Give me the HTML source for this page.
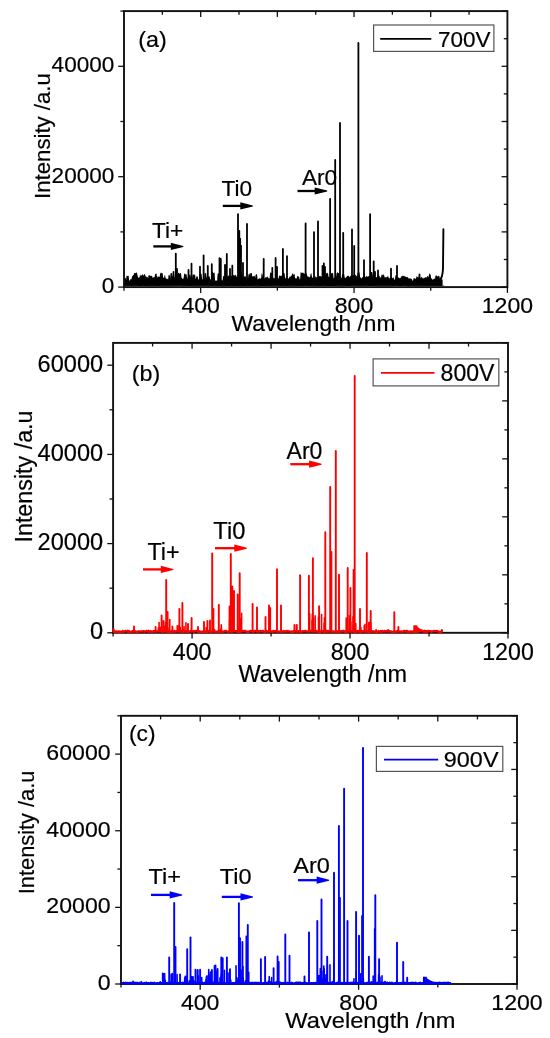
<!DOCTYPE html>
<html><head><meta charset="utf-8"><title>Spectra</title>
<style>html,body{margin:0;padding:0;background:#fff;} svg{display:block;}</style></head>
<body>
<svg width="550" height="1038" viewBox="0 0 550 1038" font-family="'Liberation Sans', Arial, sans-serif">
<rect width="550" height="1038" fill="#fff"/>
<line x1="162.34" y1="11.10" x2="162.34" y2="14.70" stroke="#111" stroke-width="1.3" stroke-linecap="butt"/>
<line x1="200.68" y1="11.10" x2="200.68" y2="16.90" stroke="#111" stroke-width="1.3" stroke-linecap="butt"/>
<line x1="239.02" y1="11.10" x2="239.02" y2="14.70" stroke="#111" stroke-width="1.3" stroke-linecap="butt"/>
<line x1="277.36" y1="11.10" x2="277.36" y2="16.90" stroke="#111" stroke-width="1.3" stroke-linecap="butt"/>
<line x1="315.70" y1="11.10" x2="315.70" y2="14.70" stroke="#111" stroke-width="1.3" stroke-linecap="butt"/>
<line x1="354.04" y1="11.10" x2="354.04" y2="16.90" stroke="#111" stroke-width="1.3" stroke-linecap="butt"/>
<line x1="392.38" y1="11.10" x2="392.38" y2="14.70" stroke="#111" stroke-width="1.3" stroke-linecap="butt"/>
<line x1="430.72" y1="11.10" x2="430.72" y2="16.90" stroke="#111" stroke-width="1.3" stroke-linecap="butt"/>
<line x1="469.06" y1="11.10" x2="469.06" y2="14.70" stroke="#111" stroke-width="1.3" stroke-linecap="butt"/>
<line x1="200.68" y1="287.10" x2="200.68" y2="292.90" stroke="#111" stroke-width="1.3" stroke-linecap="butt"/>
<line x1="354.04" y1="287.10" x2="354.04" y2="292.90" stroke="#111" stroke-width="1.3" stroke-linecap="butt"/>
<line x1="507.40" y1="287.10" x2="507.40" y2="292.90" stroke="#111" stroke-width="1.3" stroke-linecap="butt"/>
<line x1="124.00" y1="287.10" x2="124.00" y2="290.70" stroke="#111" stroke-width="1.3" stroke-linecap="butt"/>
<line x1="277.36" y1="287.10" x2="277.36" y2="290.70" stroke="#111" stroke-width="1.3" stroke-linecap="butt"/>
<line x1="430.72" y1="287.10" x2="430.72" y2="290.70" stroke="#111" stroke-width="1.3" stroke-linecap="butt"/>
<line x1="118.20" y1="287.10" x2="124.00" y2="287.10" stroke="#111" stroke-width="1.3" stroke-linecap="butt"/>
<line x1="120.40" y1="231.90" x2="124.00" y2="231.90" stroke="#111" stroke-width="1.3" stroke-linecap="butt"/>
<line x1="118.20" y1="176.70" x2="124.00" y2="176.70" stroke="#111" stroke-width="1.3" stroke-linecap="butt"/>
<line x1="120.40" y1="121.50" x2="124.00" y2="121.50" stroke="#111" stroke-width="1.3" stroke-linecap="butt"/>
<line x1="118.20" y1="66.30" x2="124.00" y2="66.30" stroke="#111" stroke-width="1.3" stroke-linecap="butt"/>
<line x1="120.40" y1="11.10" x2="124.00" y2="11.10" stroke="#111" stroke-width="1.3" stroke-linecap="butt"/>
<line x1="501.60" y1="287.10" x2="507.40" y2="287.10" stroke="#111" stroke-width="1.3" stroke-linecap="butt"/>
<line x1="503.80" y1="259.50" x2="507.40" y2="259.50" stroke="#111" stroke-width="1.3" stroke-linecap="butt"/>
<line x1="501.60" y1="231.90" x2="507.40" y2="231.90" stroke="#111" stroke-width="1.3" stroke-linecap="butt"/>
<line x1="503.80" y1="204.30" x2="507.40" y2="204.30" stroke="#111" stroke-width="1.3" stroke-linecap="butt"/>
<line x1="501.60" y1="176.70" x2="507.40" y2="176.70" stroke="#111" stroke-width="1.3" stroke-linecap="butt"/>
<line x1="503.80" y1="149.10" x2="507.40" y2="149.10" stroke="#111" stroke-width="1.3" stroke-linecap="butt"/>
<line x1="501.60" y1="121.50" x2="507.40" y2="121.50" stroke="#111" stroke-width="1.3" stroke-linecap="butt"/>
<line x1="503.80" y1="93.90" x2="507.40" y2="93.90" stroke="#111" stroke-width="1.3" stroke-linecap="butt"/>
<line x1="501.60" y1="66.30" x2="507.40" y2="66.30" stroke="#111" stroke-width="1.3" stroke-linecap="butt"/>
<line x1="503.80" y1="38.70" x2="507.40" y2="38.70" stroke="#111" stroke-width="1.3" stroke-linecap="butt"/>
<line x1="501.60" y1="11.10" x2="507.40" y2="11.10" stroke="#111" stroke-width="1.3" stroke-linecap="butt"/>
<rect x="124.00" y="11.10" width="383.40" height="276.00" fill="none" stroke="#111" stroke-width="1.9"/>
<polygon points="124.60,278.40 125.10,277.63 125.60,277.96 126.10,279.82 126.60,275.24 127.10,276.07 127.60,275.98 128.10,276.14 128.60,275.17 129.10,280.59 129.60,280.56 130.10,280.15 130.60,278.67 131.10,279.39 131.60,278.74 132.10,276.27 132.60,276.31 133.10,274.91 133.60,275.28 134.10,272.81 134.60,273.16 135.10,272.83 135.60,273.52 136.10,272.54 136.60,272.62 137.10,273.14 137.60,276.17 138.10,277.28 138.60,277.87 139.10,277.53 139.60,277.00 140.10,274.33 140.60,275.79 141.10,276.03 141.60,275.37 142.10,274.54 142.60,274.32 143.10,275.55 143.60,275.58 144.10,273.95 144.60,274.23 145.10,274.67 145.60,276.14 146.10,277.01 146.60,276.33 147.10,278.11 147.60,276.75 148.10,277.59 148.60,277.80 149.10,277.61 149.60,275.37 150.10,275.40 150.60,276.36 151.10,275.88 151.60,275.87 152.10,276.06 152.60,277.71 153.10,277.86 153.60,277.24 154.10,277.23 154.60,277.07 155.10,274.01 155.60,274.34 156.10,273.27 156.60,273.89 157.10,278.11 157.60,276.24 158.10,277.08 158.60,276.13 159.10,277.00 159.60,276.86 160.10,273.93 160.60,272.60 161.10,273.40 161.60,272.57 162.10,273.19 162.60,273.12 163.10,277.43 163.60,277.40 164.10,278.01 164.60,274.98 165.10,275.46 165.60,278.02 166.10,278.87 166.60,278.61 167.10,278.79 167.60,278.95 168.10,279.56 168.60,274.89 169.10,274.65 169.60,276.03 170.10,274.49 170.60,278.25 171.10,278.33 171.60,277.41 172.10,275.40 172.60,276.36 173.10,275.23 173.60,277.62 174.10,277.57 174.60,277.03 175.10,273.57 175.60,273.82 176.10,273.95 176.60,273.31 177.10,273.75 177.60,277.11 178.10,272.59 178.60,273.05 179.10,272.69 179.60,274.17 180.10,272.90 180.60,272.93 181.10,273.84 181.60,278.09 182.10,277.84 182.60,279.01 183.10,278.99 183.60,278.00 184.10,274.22 184.60,273.53 185.10,273.56 185.60,274.66 186.10,273.87 186.60,274.70 187.10,278.30 187.60,278.78 188.10,274.56 188.60,275.80 189.10,275.48 189.60,274.48 190.10,274.55 190.60,275.95 191.10,278.19 191.60,278.70 192.10,277.83 192.60,274.81 193.10,273.96 193.60,275.05 194.10,274.85 194.60,274.85 195.10,274.15 195.60,279.17 196.10,278.11 196.60,275.82 197.10,276.94 197.60,275.87 198.10,278.59 198.60,279.42 199.10,279.99 199.60,274.29 200.10,273.98 200.60,272.81 201.10,273.84 201.60,274.20 202.10,278.84 202.60,279.60 203.10,279.21 203.60,279.36 204.10,278.81 204.60,273.28 205.10,272.85 205.60,273.54 206.10,272.76 206.60,278.02 207.10,276.17 207.60,276.25 208.10,277.48 208.60,276.15 209.10,275.93 209.60,276.41 210.10,279.04 210.60,279.34 211.10,280.04 211.60,280.44 212.10,272.11 212.60,272.04 213.10,272.68 213.60,273.03 214.10,272.60 214.60,272.83 215.10,281.17 215.60,280.19 216.10,280.18 216.60,280.66 217.10,280.83 217.60,273.95 218.10,273.33 218.60,273.52 219.10,273.08 219.60,273.74 220.10,273.83 220.60,279.80 221.10,279.67 221.60,279.95 222.10,280.25 222.60,280.42 223.10,275.64 223.60,276.29 224.10,276.31 224.60,276.88 225.10,275.37 225.60,279.47 226.10,278.02 226.60,275.21 227.10,276.16 227.60,276.54 228.10,276.07 228.60,275.11 229.10,276.77 229.60,275.72 230.10,275.88 230.60,276.16 231.10,275.33 231.60,275.90 232.10,276.01 232.60,275.36 233.10,274.45 233.60,275.62 234.10,275.07 234.60,275.90 235.10,274.44 235.60,275.33 236.10,275.62 236.60,277.00 237.10,276.28 237.60,276.77 238.10,275.68 238.60,275.18 239.10,272.75 239.60,272.41 240.10,272.05 240.60,273.02 241.10,272.53 241.60,272.20 242.10,272.93 242.60,278.54 243.10,278.11 243.60,277.42 244.10,275.79 244.60,276.99 245.10,275.82 245.60,276.58 246.10,277.90 246.60,279.99 247.10,278.46 247.60,277.73 248.10,277.53 248.60,273.87 249.10,274.63 249.60,273.65 250.10,273.26 250.60,273.81 251.10,278.81 251.60,277.48 252.10,276.28 252.60,276.80 253.10,275.73 253.60,276.60 254.10,276.10 254.60,275.39 255.10,277.90 255.60,274.99 256.10,274.14 256.60,274.10 257.10,274.95 257.60,279.40 258.10,279.17 258.60,278.42 259.10,279.16 259.60,277.74 260.10,278.27 260.60,278.70 261.10,278.13 261.60,273.49 262.10,273.62 262.60,274.50 263.10,278.49 263.60,277.06 264.10,279.25 264.60,278.04 265.10,277.72 265.60,277.26 266.10,277.45 266.60,276.93 267.10,277.36 267.60,276.11 268.10,278.39 268.60,277.51 269.10,278.49 269.60,278.19 270.10,272.79 270.60,272.24 271.10,273.44 271.60,272.37 272.10,273.52 272.60,272.75 273.10,277.91 273.60,277.97 274.10,277.54 274.60,278.58 275.10,278.79 275.60,274.69 276.10,274.79 276.60,275.76 277.10,274.42 277.60,278.13 278.10,278.16 278.60,278.51 279.10,274.97 279.60,275.92 280.10,276.10 280.60,276.05 281.10,274.74 281.60,276.44 282.10,275.30 282.60,273.29 283.10,272.94 283.60,272.51 284.10,273.26 284.60,272.97 285.10,278.31 285.60,278.41 286.10,276.49 286.60,276.86 287.10,278.72 287.60,278.74 288.10,277.94 288.60,279.04 289.10,277.61 289.60,276.70 290.10,276.66 290.60,276.78 291.10,275.35 291.60,276.24 292.10,274.05 292.60,273.41 293.10,273.56 293.60,274.95 294.10,274.73 294.60,273.62 295.10,279.01 295.60,278.04 296.10,277.87 296.60,278.95 297.10,276.24 297.60,276.32 298.10,275.84 298.60,277.01 299.10,276.87 299.60,279.30 300.10,279.39 300.60,272.58 301.10,272.34 301.60,273.12 302.10,272.46 302.60,272.87 303.10,273.16 303.60,272.59 304.10,274.43 304.60,273.31 305.10,273.67 305.60,274.71 306.10,273.46 306.60,273.30 307.10,275.19 307.60,276.78 308.10,276.03 308.60,277.24 309.10,276.78 309.60,277.42 310.10,276.67 310.60,273.90 311.10,273.01 311.60,274.40 312.10,277.98 312.60,277.18 313.10,277.89 313.60,277.09 314.10,277.52 314.60,277.83 315.10,278.00 315.60,275.68 316.10,277.24 316.60,277.43 317.10,276.01 317.60,276.73 318.10,277.58 318.60,275.86 319.10,276.35 319.60,275.84 320.10,276.52 320.60,275.63 321.10,276.40 321.60,276.17 322.10,276.94 322.60,276.33 323.10,276.78 323.60,277.71 324.10,277.19 324.60,277.05 325.10,275.95 325.60,273.15 326.10,273.24 326.60,273.16 327.10,272.47 327.60,273.25 328.10,273.81 328.60,277.02 329.10,276.96 329.60,277.35 330.10,277.80 330.60,273.51 331.10,273.59 331.60,273.37 332.10,272.69 332.60,273.13 333.10,273.13 333.60,278.42 334.10,277.95 334.60,277.14 335.10,276.53 335.60,276.98 336.10,276.70 336.60,272.98 337.10,273.14 337.60,272.10 338.10,272.72 338.60,273.27 339.10,272.42 339.60,275.98 340.10,276.90 340.60,276.46 341.10,277.79 341.60,278.34 342.10,274.05 342.60,274.30 343.10,274.80 343.60,274.22 344.10,274.05 344.60,277.19 345.10,277.96 345.60,278.14 346.10,276.61 346.60,277.39 347.10,275.87 347.60,275.99 348.10,275.74 348.60,275.83 349.10,276.81 349.60,277.21 350.10,276.35 350.60,275.86 351.10,275.22 351.60,276.07 352.10,275.51 352.60,275.38 353.10,274.72 353.60,275.18 354.10,275.21 354.60,275.90 355.10,274.83 355.60,274.86 356.10,276.55 356.60,275.18 357.10,276.73 357.60,272.16 358.10,272.97 358.60,272.84 359.10,271.94 359.60,273.08 360.10,277.54 360.60,277.13 361.10,278.36 361.60,278.54 362.10,277.25 362.60,277.55 363.10,275.99 363.60,276.45 364.10,272.83 364.60,273.83 365.10,277.49 365.60,276.90 366.10,275.68 366.60,276.59 367.10,276.33 367.60,276.70 368.10,276.54 368.60,276.07 369.10,276.38 369.60,275.70 370.10,276.79 370.60,277.28 371.10,277.29 371.60,277.57 372.10,277.29 372.60,274.46 373.10,273.31 373.60,272.95 374.10,273.40 374.60,277.83 375.10,276.99 375.60,277.49 376.10,277.07 376.60,277.42 377.10,276.53 377.60,276.50 378.10,276.34 378.60,275.38 379.10,276.03 379.60,275.61 380.10,278.58 380.60,277.08 381.10,276.92 381.60,274.46 382.10,274.43 382.60,275.43 383.10,274.85 383.60,274.57 384.10,274.86 384.60,277.51 385.10,277.20 385.60,277.02 386.10,277.59 386.60,277.09 387.10,276.68 387.60,276.38 388.10,276.11 388.60,277.40 389.10,278.45 389.60,278.00 390.10,277.80 390.60,277.70 391.10,277.86 391.60,277.21 392.10,277.91 392.60,278.36 393.10,277.35 393.60,277.47 394.10,279.64 394.60,279.67 395.10,278.13 395.60,274.65 396.10,275.63 396.60,275.01 397.10,275.68 397.60,277.05 398.10,277.89 398.60,277.36 399.10,277.67 399.60,278.55 400.10,277.76 400.60,278.17 401.10,276.58 401.60,276.18 402.10,276.59 402.60,275.38 403.10,275.92 403.60,275.64 404.10,276.19 404.60,275.92 405.10,277.23 405.60,276.34 406.10,276.76 406.60,277.16 407.10,277.13 407.60,276.68 408.10,277.77 408.60,278.70 409.10,277.45 409.60,278.82 410.10,278.79 410.60,278.30 411.10,278.74 411.60,278.77 412.10,279.79 412.60,280.99 413.10,280.24 413.60,277.89 414.10,278.54 414.60,278.21 415.10,278.53 415.60,278.98 416.10,278.27 416.60,275.84 417.10,277.25 417.60,276.96 418.10,276.22 418.60,276.68 419.10,278.70 419.60,278.00 420.10,278.23 420.60,277.66 421.10,276.78 421.60,277.13 422.10,277.62 422.60,278.06 423.10,279.15 423.60,277.53 424.10,278.24 424.60,277.70 425.10,277.61 425.60,276.98 426.10,277.84 426.60,277.16 427.10,276.79 427.60,275.77 428.10,276.20 428.60,277.52 429.10,273.42 429.60,273.55 430.10,274.98 430.60,273.76 431.10,278.27 431.60,278.52 432.10,278.56 432.60,280.08 433.10,279.56 433.60,278.92 434.10,278.77 434.60,278.67 435.10,277.72 435.60,277.57 436.10,279.64 436.60,275.66 437.10,275.86 437.60,276.84 438.10,276.43 438.60,275.56 439.10,276.09 439.60,277.07 440.10,280.71 440.60,280.30 441.10,275.91 441.60,276.24 442,285.9 124.6,285.9" fill="#000"/>
<path d="M125.0,285.4h2.1v1.1h-2.1zM127.2,285.4h1.8v1.0h-1.8zM129.0,285.4h1.7v0.9h-1.7zM132.9,285.4h3.5v1.2h-3.5zM135.9,285.4h2.2v0.9h-2.2zM142.4,285.4h1.4v0.6h-1.4zM145.4,285.4h1.0v0.8h-1.0zM147.5,285.4h3.0v1.1h-3.0zM149.7,285.4h1.6v1.3h-1.6zM151.5,285.4h3.1v1.2h-3.1zM157.3,285.4h1.2v0.7h-1.2zM159.9,285.4h1.3v1.2h-1.3zM162.3,285.4h2.6v1.3h-2.6zM164.6,285.4h2.8v1.1h-2.8zM166.8,285.4h2.4v1.1h-2.4zM169.9,285.4h2.3v1.0h-2.3zM171.9,285.4h3.8v0.6h-3.8zM174.7,285.4h1.1v0.8h-1.1zM176.6,285.4h3.7v0.7h-3.7zM179.0,285.4h2.9v0.6h-2.9zM181.0,285.4h3.7v1.0h-3.7zM183.2,285.4h2.5v0.7h-2.5zM186.3,285.4h2.4v1.0h-2.4zM192.8,285.4h2.5v1.1h-2.5zM195.1,285.4h2.1v1.1h-2.1zM198.2,285.4h3.8v1.2h-3.8zM201.4,285.4h1.7v1.1h-1.7zM204.5,285.4h3.3v0.8h-3.3zM207.2,285.4h3.2v1.2h-3.2zM212.5,285.4h4.0v0.9h-4.0zM220.6,285.4h3.4v1.3h-3.4zM222.5,285.4h2.8v1.2h-2.8zM230.0,285.4h2.3v1.3h-2.3zM239.0,285.4h2.9v1.3h-2.9zM245.0,285.4h3.0v1.0h-3.0zM248.9,285.4h1.1v0.8h-1.1zM252.7,285.4h1.9v1.2h-1.9zM254.9,285.4h2.7v1.3h-2.7zM257.5,285.4h1.8v0.9h-1.8zM259.0,285.4h1.4v0.9h-1.4zM264.9,285.4h1.9v1.1h-1.9zM267.5,285.4h2.6v0.8h-2.6zM271.2,285.4h3.3v1.0h-3.3zM274.9,285.4h3.8v0.6h-3.8zM278.6,285.4h1.0v0.8h-1.0zM282.6,285.4h3.2v1.2h-3.2zM284.1,285.4h2.4v1.3h-2.4zM287.9,285.4h4.0v1.0h-4.0zM290.1,285.4h2.3v1.0h-2.3zM292.7,285.4h3.8v1.0h-3.8zM297.1,285.4h1.3v0.8h-1.3zM301.1,285.4h2.6v1.1h-2.6zM304.3,285.4h2.1v0.7h-2.1zM305.9,285.4h2.2v0.6h-2.2zM309.1,285.4h1.7v0.9h-1.7zM311.8,285.4h3.6v1.0h-3.6zM313.5,285.4h3.7v1.1h-3.7zM315.7,285.4h1.1v1.3h-1.1zM319.5,285.4h1.2v0.9h-1.2zM323.1,285.4h1.6v0.8h-1.6zM324.8,285.4h1.5v1.0h-1.5zM336.8,285.4h3.7v0.8h-3.7zM340.7,285.4h3.8v1.3h-3.8zM344.5,285.4h1.2v0.8h-1.2zM350.9,285.4h2.0v0.9h-2.0zM352.8,285.4h2.5v0.9h-2.5zM355.0,285.4h3.8v1.1h-3.8zM361.7,285.4h3.2v1.2h-3.2zM364.7,285.4h3.2v0.9h-3.2zM366.7,285.4h1.3v0.6h-1.3zM372.9,285.4h1.8v1.2h-1.8zM375.7,285.4h3.7v1.3h-3.7zM377.3,285.4h1.7v1.1h-1.7zM379.7,285.4h1.9v1.1h-1.9zM382.4,285.4h3.0v1.0h-3.0zM386.3,285.4h3.4v1.3h-3.4zM389.4,285.4h3.4v1.2h-3.4zM391.4,285.4h1.5v0.6h-1.5zM394.6,285.4h1.8v0.6h-1.8zM396.1,285.4h2.1v0.9h-2.1zM402.6,285.4h4.0v0.7h-4.0zM405.5,285.4h1.9v1.3h-1.9zM408.5,285.4h1.4v1.3h-1.4zM410.8,285.4h3.2v0.9h-3.2zM412.9,285.4h3.9v1.1h-3.9zM415.6,285.4h3.0v0.8h-3.0zM417.3,285.4h2.7v1.1h-2.7zM421.2,285.4h3.6v1.4h-3.6zM424.0,285.4h2.4v0.9h-2.4zM427.4,285.4h1.4v1.4h-1.4zM430.2,285.4h2.6v1.1h-2.6zM433.1,285.4h1.4v1.2h-1.4zM435.5,285.4h3.4v1.2h-3.4zM438.9,285.4h1.4v1.2h-1.4zM441.0,285.4h3.1v0.8h-3.1z" fill="#222"/>
<path d="M136.40,280.00V275.50 M149.20,280.00V276.10 M171.30,280.00V273.90 M173.50,280.00V271.90 M175.80,280.00V253.60 M177.00,280.00V268.90 M188.50,280.00V269.90 M191.50,280.00V263.60 M200.00,280.00V266.70 M203.60,280.00V255.40 M207.80,280.00V265.90 M211.80,280.00V264.20 M219.50,280.00V258.20 M220.80,280.00V258.90 M225.00,280.00V264.90 M226.80,280.00V253.90 M230.00,280.00V268.90 M232.30,280.00V265.70 M238.00,280.00V214.10 M239.30,280.00V230.90 M240.20,280.00V238.90 M241.00,280.00V245.60 M243.00,280.00V262.90 M247.00,280.00V223.90 M251.20,280.00V273.90 M263.70,280.00V258.80 M272.30,280.00V267.90 M275.60,280.00V257.90 M277.00,280.00V266.90 M282.90,280.00V248.90 M287.00,280.00V256.20 M305.60,280.00V223.40 M314.00,280.00V232.10 M318.00,280.00V221.40 M322.50,280.00V265.90 M323.90,280.00V263.50 M325.00,280.00V266.90 M330.10,280.00V198.80 M335.20,280.00V159.90 M340.00,280.00V122.90 M343.20,280.00V232.90 M352.00,280.00V229.40 M354.20,280.00V245.90 M358.40,280.00V42.90 M364.00,280.00V260.20 M370.10,280.00V214.20 M371.50,280.00V272.90 M373.70,280.00V261.30 M375.00,280.00V271.90 M378.00,280.00V270.50 M391.00,280.00V268.70 M397.00,280.00V265.90 M419.50,280.00V274.50 M436.20,280.00V276.40" fill="none" stroke="#000" stroke-width="1.8" stroke-linecap="round"/>
<path d="M437,281 C440.5,280.5 442.6,278 443.0,268 L443.4,229.3" fill="none" stroke="#000" stroke-width="1.9" stroke-linecap="round"/>
<path d="M437,279.5 L442.6,279.5 L442.6,285.5 L437,285.5 Z" fill="#000"/>
<line x1="152.59" y1="342.90" x2="152.59" y2="346.50" stroke="#111" stroke-width="1.3" stroke-linecap="butt"/>
<line x1="192.08" y1="342.90" x2="192.08" y2="348.70" stroke="#111" stroke-width="1.3" stroke-linecap="butt"/>
<line x1="231.57" y1="342.90" x2="231.57" y2="346.50" stroke="#111" stroke-width="1.3" stroke-linecap="butt"/>
<line x1="271.06" y1="342.90" x2="271.06" y2="348.70" stroke="#111" stroke-width="1.3" stroke-linecap="butt"/>
<line x1="310.55" y1="342.90" x2="310.55" y2="346.50" stroke="#111" stroke-width="1.3" stroke-linecap="butt"/>
<line x1="350.04" y1="342.90" x2="350.04" y2="348.70" stroke="#111" stroke-width="1.3" stroke-linecap="butt"/>
<line x1="389.53" y1="342.90" x2="389.53" y2="346.50" stroke="#111" stroke-width="1.3" stroke-linecap="butt"/>
<line x1="429.02" y1="342.90" x2="429.02" y2="348.70" stroke="#111" stroke-width="1.3" stroke-linecap="butt"/>
<line x1="468.51" y1="342.90" x2="468.51" y2="346.50" stroke="#111" stroke-width="1.3" stroke-linecap="butt"/>
<line x1="192.08" y1="632.80" x2="192.08" y2="638.60" stroke="#111" stroke-width="1.3" stroke-linecap="butt"/>
<line x1="350.04" y1="632.80" x2="350.04" y2="638.60" stroke="#111" stroke-width="1.3" stroke-linecap="butt"/>
<line x1="508.00" y1="632.80" x2="508.00" y2="638.60" stroke="#111" stroke-width="1.3" stroke-linecap="butt"/>
<line x1="113.10" y1="632.80" x2="113.10" y2="636.40" stroke="#111" stroke-width="1.3" stroke-linecap="butt"/>
<line x1="271.06" y1="632.80" x2="271.06" y2="636.40" stroke="#111" stroke-width="1.3" stroke-linecap="butt"/>
<line x1="429.02" y1="632.80" x2="429.02" y2="636.40" stroke="#111" stroke-width="1.3" stroke-linecap="butt"/>
<line x1="107.30" y1="632.80" x2="113.10" y2="632.80" stroke="#111" stroke-width="1.3" stroke-linecap="butt"/>
<line x1="109.50" y1="588.20" x2="113.10" y2="588.20" stroke="#111" stroke-width="1.3" stroke-linecap="butt"/>
<line x1="107.30" y1="543.60" x2="113.10" y2="543.60" stroke="#111" stroke-width="1.3" stroke-linecap="butt"/>
<line x1="109.50" y1="499.00" x2="113.10" y2="499.00" stroke="#111" stroke-width="1.3" stroke-linecap="butt"/>
<line x1="107.30" y1="454.40" x2="113.10" y2="454.40" stroke="#111" stroke-width="1.3" stroke-linecap="butt"/>
<line x1="109.50" y1="409.80" x2="113.10" y2="409.80" stroke="#111" stroke-width="1.3" stroke-linecap="butt"/>
<line x1="107.30" y1="365.20" x2="113.10" y2="365.20" stroke="#111" stroke-width="1.3" stroke-linecap="butt"/>
<line x1="502.20" y1="632.80" x2="508.00" y2="632.80" stroke="#111" stroke-width="1.3" stroke-linecap="butt"/>
<line x1="504.40" y1="603.81" x2="508.00" y2="603.81" stroke="#111" stroke-width="1.3" stroke-linecap="butt"/>
<line x1="502.20" y1="574.82" x2="508.00" y2="574.82" stroke="#111" stroke-width="1.3" stroke-linecap="butt"/>
<line x1="504.40" y1="545.83" x2="508.00" y2="545.83" stroke="#111" stroke-width="1.3" stroke-linecap="butt"/>
<line x1="502.20" y1="516.84" x2="508.00" y2="516.84" stroke="#111" stroke-width="1.3" stroke-linecap="butt"/>
<line x1="504.40" y1="487.85" x2="508.00" y2="487.85" stroke="#111" stroke-width="1.3" stroke-linecap="butt"/>
<line x1="502.20" y1="458.86" x2="508.00" y2="458.86" stroke="#111" stroke-width="1.3" stroke-linecap="butt"/>
<line x1="504.40" y1="429.87" x2="508.00" y2="429.87" stroke="#111" stroke-width="1.3" stroke-linecap="butt"/>
<line x1="502.20" y1="400.88" x2="508.00" y2="400.88" stroke="#111" stroke-width="1.3" stroke-linecap="butt"/>
<line x1="504.40" y1="371.89" x2="508.00" y2="371.89" stroke="#111" stroke-width="1.3" stroke-linecap="butt"/>
<line x1="502.20" y1="342.90" x2="508.00" y2="342.90" stroke="#111" stroke-width="1.3" stroke-linecap="butt"/>
<rect x="113.10" y="342.90" width="394.90" height="289.90" fill="none" stroke="#111" stroke-width="1.9"/>
<polyline points="113.60,631.61 114.30,631.82 115.00,631.22 115.70,631.91 116.40,631.36 117.10,631.56 117.80,631.93 118.50,631.39 119.20,631.96 119.90,631.48 120.60,631.92 121.30,631.89 122.00,631.49 122.70,631.01 123.40,631.85 124.10,631.73 124.80,631.25 125.50,630.86 126.20,631.31 126.90,631.52 127.60,630.83 128.30,631.94 129.00,630.97 129.70,631.65 130.40,631.83 131.10,631.86 131.80,631.63 132.50,631.02 133.20,631.78 133.90,631.30 134.60,631.23 135.30,631.55 136.00,631.34 136.70,631.92 137.40,631.93 138.10,631.75 138.80,631.18 139.50,631.49 140.20,631.62 140.90,631.30 141.60,631.46 142.30,631.64 143.00,631.05 143.70,631.16 144.40,631.71 145.10,631.31 145.80,631.37 146.50,630.95 147.20,631.12 147.90,631.65 148.60,630.82 149.30,631.86 150.00,631.50 150.70,631.09 151.40,631.82 152.10,631.41 152.80,631.95 153.50,631.20 154.20,631.08 154.90,631.31 155.60,630.95 156.30,631.62 157.00,631.17 157.70,631.29 158.40,631.30 159.10,631.45 159.80,630.99 160.50,630.87 161.20,631.43 161.90,631.20 162.60,631.93 163.30,631.16 164.00,631.22 164.70,630.81 165.40,631.01 166.10,631.66 166.80,631.54 167.50,631.20 168.20,631.97 168.90,631.45 169.60,631.80 170.30,631.86 171.00,631.93 171.70,631.08 172.40,631.84 173.10,631.70 173.80,631.53 174.50,630.95 175.20,631.90 175.90,631.46 176.60,631.34 177.30,630.94 178.00,631.02 178.70,630.96 179.40,631.67 180.10,631.50 180.80,631.57 181.50,630.94 182.20,630.85 182.90,631.82 183.60,631.79 184.30,631.72 185.00,631.72 185.70,631.42 186.40,631.29 187.10,631.68 187.80,632.00 188.50,631.50 189.20,631.56 189.90,631.32 190.60,630.86 191.30,631.17 192.00,631.38 192.70,631.26 193.40,631.19 194.10,631.94 194.80,630.92 195.50,631.06 196.20,630.95 196.90,631.04 197.60,631.53 198.30,631.52 199.00,631.88 199.70,631.24 200.40,631.93 201.10,631.92 201.80,631.75 202.50,631.81 203.20,631.59 203.90,631.94 204.60,632.00 205.30,631.82 206.00,631.88 206.70,631.56 207.40,631.97 208.10,630.95 208.80,631.26 209.50,631.82 210.20,631.70 210.90,631.58 211.60,631.56 212.30,631.85 213.00,630.98 213.70,630.81 214.40,631.44 215.10,631.42 215.80,631.90 216.50,631.88 217.20,631.59 217.90,631.68 218.60,631.01 219.30,631.81 220.00,631.97 220.70,630.86 221.40,631.37 222.10,631.82 222.80,631.35 223.50,631.97 224.20,631.37 224.90,630.83 225.60,630.96 226.30,631.16 227.00,631.69 227.70,631.56 228.40,631.80 229.10,631.07 229.80,631.36 230.50,631.07 231.20,631.60 231.90,631.73 232.60,631.03 233.30,630.82 234.00,630.98 234.70,631.03 235.40,631.02 236.10,631.11 236.80,631.73 237.50,631.38 238.20,631.57 238.90,631.97 239.60,631.97 240.30,631.66 241.00,631.69 241.70,631.17 242.40,630.85 243.10,631.46 243.80,630.88 244.50,630.81 245.20,630.85 245.90,631.56 246.60,631.74 247.30,631.73 248.00,631.76 248.70,631.75 249.40,631.25 250.10,630.92 250.80,630.99 251.50,631.42 252.20,631.22 252.90,631.04 253.60,631.90 254.30,631.21 255.00,630.91 255.70,631.06 256.40,631.10 257.10,631.43 257.80,631.79 258.50,631.05 259.20,631.60 259.90,631.04 260.60,630.83 261.30,631.52 262.00,631.52 262.70,630.86 263.40,631.13 264.10,631.80 264.80,631.85 265.50,631.82 266.20,630.91 266.90,631.03 267.60,631.82 268.30,631.01 269.00,630.82 269.70,631.21 270.40,631.58 271.10,631.34 271.80,631.84 272.50,631.98 273.20,630.83 273.90,631.22 274.60,631.37 275.30,630.88 276.00,631.48 276.70,630.95 277.40,631.01 278.10,631.75 278.80,631.70 279.50,631.65 280.20,631.71 280.90,631.30 281.60,631.69 282.30,631.50 283.00,631.84 283.70,630.91 284.40,631.58 285.10,631.45 285.80,631.30 286.50,630.91 287.20,631.50 287.90,630.90 288.60,631.40 289.30,631.36 290.00,631.37 290.70,631.98 291.40,631.47 292.10,631.78 292.80,632.00 293.50,631.04 294.20,631.79 294.90,631.43 295.60,631.13 296.30,631.33 297.00,631.61 297.70,631.38 298.40,631.33 299.10,631.06 299.80,631.87 300.50,631.33 301.20,631.70 301.90,631.67 302.60,631.07 303.30,631.39 304.00,631.33 304.70,631.09 305.40,630.91 306.10,631.47 306.80,631.26 307.50,631.39 308.20,631.39 308.90,631.17 309.60,631.46 310.30,631.36 311.00,631.43 311.70,630.87 312.40,631.16 313.10,630.95 313.80,630.87 314.50,631.69 315.20,631.33 315.90,630.87 316.60,630.99 317.30,631.84 318.00,631.85 318.70,631.47 319.40,631.91 320.10,631.71 320.80,631.91 321.50,631.20 322.20,631.06 322.90,630.92 323.60,631.81 324.30,631.14 325.00,631.21 325.70,631.83 326.40,630.94 327.10,630.84 327.80,631.74 328.50,630.86 329.20,631.52 329.90,631.42 330.60,630.81 331.30,631.00 332.00,631.81 332.70,631.48 333.40,631.38 334.10,631.59 334.80,631.77 335.50,631.62 336.20,631.13 336.90,631.98 337.60,631.34 338.30,631.47 339.00,631.98 339.70,631.60 340.40,631.25 341.10,631.39 341.80,631.92 342.50,630.82 343.20,631.05 343.90,630.83 344.60,631.87 345.30,631.68 346.00,631.95 346.70,631.07 347.40,631.68 348.10,631.84 348.80,631.49 349.50,630.91 350.20,631.02 350.90,631.69 351.60,631.82 352.30,630.90 353.00,631.32 353.70,631.16 354.40,631.89 355.10,631.93 355.80,631.17 356.50,631.49 357.20,631.91 357.90,630.87 358.60,631.24 359.30,631.04 360.00,631.90 360.70,630.97 361.40,631.92 362.10,630.96 362.80,631.46 363.50,631.59 364.20,631.34 364.90,630.89 365.60,631.68 366.30,631.84 367.00,631.37 367.70,631.71 368.40,631.87 369.10,631.81 369.80,631.94 370.50,631.76 371.20,631.63 371.90,631.63 372.60,631.09 373.30,631.65 374.00,631.40 374.70,631.79 375.40,631.58 376.10,631.98 376.80,631.70 377.50,631.98 378.20,631.12 378.90,631.34 379.60,631.77 380.30,631.43 381.00,630.88 381.70,631.87 382.40,631.02 383.10,631.48 383.80,631.41 384.50,631.00 385.20,631.53 385.90,631.39 386.60,631.17 387.30,630.82 388.00,631.59 388.70,631.00 389.40,631.15 390.10,631.24 390.80,631.51 391.50,631.58 392.20,631.93 392.90,631.84 393.60,631.92 394.30,631.11 395.00,631.69 395.70,631.80 396.40,631.90 397.10,630.99 397.80,630.96 398.50,631.20 399.20,631.66 399.90,631.71 400.60,631.65 401.30,631.45 402.00,631.81 402.70,631.47 403.40,631.68 404.10,630.85 404.80,630.83 405.50,631.34 406.20,631.71 406.90,630.84 407.60,631.63 408.30,631.57 409.00,632.00 409.70,631.54 410.40,631.43 411.10,631.40 411.80,631.76 412.50,631.39 413.20,631.99 413.90,631.68 414.60,631.89 415.30,631.52 416.00,631.95 416.70,631.97 417.40,631.63 418.10,631.72 418.80,631.30 419.50,631.36 420.20,631.10 420.90,631.21 421.60,631.14 422.30,630.95 423.00,631.53 423.70,631.61 424.40,630.82 425.10,631.82 425.80,631.13 426.50,631.23 427.20,631.95 427.90,631.00 428.60,630.93 429.30,631.25 430.00,631.12 430.70,631.03 431.40,631.83 432.10,631.37 432.80,631.39 433.50,631.00 434.20,631.03 434.90,631.01 435.60,631.30 436.30,630.93 437.00,631.18 437.70,631.17 438.40,631.72 439.10,631.96 439.80,631.84 440.50,631.57 441.20,631.87 441.90,631.00 442.60,631.33" fill="none" stroke="#f00" stroke-width="2.3" stroke-linejoin="round"/>
<path d="M163.43,631.50V626.65 M169.09,631.50V628.01 M164.09,631.50V626.22 M160.22,631.50V627.36 M165.56,631.50V622.77 M159.13,631.50V630.04 M159.09,631.50V622.46 M166.32,631.50V631.50 M169.79,631.50V619.51 M165.85,631.50V625.78 M159.89,631.50V631.50 M164.34,631.50V631.50 M160.28,631.50V630.69 M158.36,631.50V628.03 M179.29,631.50V624.95 M180.23,631.50V627.43 M180.00,631.50V627.18 M179.49,631.50V630.91 M185.97,631.50V622.86 M184.08,631.50V626.64 M177.78,631.50V631.25 M177.47,631.50V631.50 M183.20,631.50V629.89 M184.16,631.50V630.02 M221.29,631.50V624.89 M205.01,631.50V631.39 M220.47,631.50V629.24 M221.67,631.50V629.92 M206.24,631.50V627.56 M218.23,631.50V630.97 M206.48,631.50V630.48 M221.39,631.50V626.03 M207.01,631.50V631.14 M206.72,631.50V631.50 M218.55,631.50V631.50 M214.51,631.50V629.46 M230.67,631.50V615.71 M229.83,631.50V618.61 M229.63,631.50V625.07 M230.98,631.50V628.59 M241.59,631.50V613.22 M232.26,631.50V610.24 M230.95,631.50V625.74 M239.96,631.50V618.67 M229.40,631.50V606.22 M230.99,631.50V628.82 M238.82,631.50V627.30 M232.15,631.50V631.50 M229.26,631.50V620.51 M231.40,631.50V619.94 M233.20,631.50V624.21 M241.43,631.50V623.38 M318.77,631.50V616.57 M312.11,631.50V631.12 M324.44,631.50V617.88 M313.24,631.50V630.69 M321.57,631.50V614.52 M312.34,631.50V614.24 M324.00,631.50V623.16 M316.16,631.50V631.50 M309.66,631.50V613.88 M313.05,631.50V620.77 M313.37,631.50V617.72 M319.14,631.50V629.20 M311.98,631.50V620.38 M310.17,631.50V630.17 M318.51,631.50V616.95 M319.44,631.50V629.41 M324.60,631.50V630.50 M309.28,631.50V629.58 M316.58,631.50V631.50 M312.00,631.50V627.93 M318.73,631.50V631.37 M315.16,631.50V615.90 M355.80,631.50V623.51 M352.91,631.50V624.93 M347.40,631.50V631.50 M346.18,631.50V617.97 M353.01,631.50V616.71 M346.21,631.50V623.93 M350.82,631.50V622.00 M349.19,631.50V615.82 M360.90,631.50V627.66 M368.84,631.50V622.48 M368.85,631.50V625.51 M369.52,631.50V622.23 M364.22,631.50V625.78 M370.81,631.50V622.95 M365.01,631.50V624.22 M370.36,631.50V627.31" fill="none" stroke="#f00" stroke-width="1.6" stroke-linecap="round"/>
<path d="M113.60,631.50V628.95 M134.00,631.50V626.35 M155.60,631.50V626.95 M161.60,631.50V615.35 M163.60,631.50V620.95 M166.20,631.50V579.95 M167.60,631.50V611.95 M172.40,631.50V626.35 M177.40,631.50V625.95 M179.40,631.50V608.95 M182.40,631.50V602.95 M188.00,631.50V623.95 M191.60,631.50V617.95 M198.00,631.50V626.95 M204.00,631.50V621.95 M207.40,631.50V620.95 M210.00,631.50V620.55 M212.20,631.50V553.35 M213.40,631.50V608.95 M218.80,631.50V604.95 M230.80,631.50V553.95 M232.30,631.50V586.45 M234.00,631.50V590.95 M237.70,631.50V594.55 M239.70,631.50V573.15 M252.60,631.50V603.95 M257.00,631.50V607.35 M265.50,631.50V616.95 M269.00,631.50V605.45 M270.20,631.50V607.95 M277.00,631.50V569.15 M281.00,631.50V605.45 M294.50,631.50V624.95 M296.80,631.50V624.95 M300.10,631.50V575.25 M308.90,631.50V575.75 M312.90,631.50V558.25 M319.10,631.50V606.25 M325.30,631.50V532.15 M330.20,631.50V486.85 M331.40,631.50V551.95 M335.80,631.50V450.95 M339.00,631.50V574.65 M347.70,631.50V567.95 M350.40,631.50V587.95 M353.60,631.50V569.95 M354.70,631.50V375.95 M360.00,631.50V608.95 M366.80,631.50V552.95 M370.70,631.50V610.95 M376.10,631.50V629.95 M388.20,631.50V629.95 M394.30,631.50V612.25 M398.40,631.50V626.95 M441.90,631.50V629.95" fill="none" stroke="#f00" stroke-width="1.9" stroke-linecap="round"/>
<polygon points="413.2,632 413.4,625.3 417,625.3 418,627.3 420,628.8 424,630.2 426,630.8 426,632" fill="#f00"/>
<line x1="160.60" y1="715.80" x2="160.60" y2="719.40" stroke="#111" stroke-width="1.3" stroke-linecap="butt"/>
<line x1="200.20" y1="715.80" x2="200.20" y2="721.60" stroke="#111" stroke-width="1.3" stroke-linecap="butt"/>
<line x1="239.80" y1="715.80" x2="239.80" y2="719.40" stroke="#111" stroke-width="1.3" stroke-linecap="butt"/>
<line x1="279.40" y1="715.80" x2="279.40" y2="721.60" stroke="#111" stroke-width="1.3" stroke-linecap="butt"/>
<line x1="319.00" y1="715.80" x2="319.00" y2="719.40" stroke="#111" stroke-width="1.3" stroke-linecap="butt"/>
<line x1="358.60" y1="715.80" x2="358.60" y2="721.60" stroke="#111" stroke-width="1.3" stroke-linecap="butt"/>
<line x1="398.20" y1="715.80" x2="398.20" y2="719.40" stroke="#111" stroke-width="1.3" stroke-linecap="butt"/>
<line x1="437.80" y1="715.80" x2="437.80" y2="721.60" stroke="#111" stroke-width="1.3" stroke-linecap="butt"/>
<line x1="477.40" y1="715.80" x2="477.40" y2="719.40" stroke="#111" stroke-width="1.3" stroke-linecap="butt"/>
<line x1="200.20" y1="984.00" x2="200.20" y2="989.80" stroke="#111" stroke-width="1.3" stroke-linecap="butt"/>
<line x1="358.60" y1="984.00" x2="358.60" y2="989.80" stroke="#111" stroke-width="1.3" stroke-linecap="butt"/>
<line x1="517.00" y1="984.00" x2="517.00" y2="989.80" stroke="#111" stroke-width="1.3" stroke-linecap="butt"/>
<line x1="121.00" y1="984.00" x2="121.00" y2="987.60" stroke="#111" stroke-width="1.3" stroke-linecap="butt"/>
<line x1="279.40" y1="984.00" x2="279.40" y2="987.60" stroke="#111" stroke-width="1.3" stroke-linecap="butt"/>
<line x1="437.80" y1="984.00" x2="437.80" y2="987.60" stroke="#111" stroke-width="1.3" stroke-linecap="butt"/>
<line x1="115.20" y1="984.00" x2="121.00" y2="984.00" stroke="#111" stroke-width="1.3" stroke-linecap="butt"/>
<line x1="117.40" y1="945.69" x2="121.00" y2="945.69" stroke="#111" stroke-width="1.3" stroke-linecap="butt"/>
<line x1="115.20" y1="907.37" x2="121.00" y2="907.37" stroke="#111" stroke-width="1.3" stroke-linecap="butt"/>
<line x1="117.40" y1="869.06" x2="121.00" y2="869.06" stroke="#111" stroke-width="1.3" stroke-linecap="butt"/>
<line x1="115.20" y1="830.74" x2="121.00" y2="830.74" stroke="#111" stroke-width="1.3" stroke-linecap="butt"/>
<line x1="117.40" y1="792.43" x2="121.00" y2="792.43" stroke="#111" stroke-width="1.3" stroke-linecap="butt"/>
<line x1="115.20" y1="754.11" x2="121.00" y2="754.11" stroke="#111" stroke-width="1.3" stroke-linecap="butt"/>
<line x1="117.40" y1="715.80" x2="121.00" y2="715.80" stroke="#111" stroke-width="1.3" stroke-linecap="butt"/>
<line x1="511.20" y1="984.00" x2="517.00" y2="984.00" stroke="#111" stroke-width="1.3" stroke-linecap="butt"/>
<line x1="513.40" y1="957.18" x2="517.00" y2="957.18" stroke="#111" stroke-width="1.3" stroke-linecap="butt"/>
<line x1="511.20" y1="930.36" x2="517.00" y2="930.36" stroke="#111" stroke-width="1.3" stroke-linecap="butt"/>
<line x1="513.40" y1="903.54" x2="517.00" y2="903.54" stroke="#111" stroke-width="1.3" stroke-linecap="butt"/>
<line x1="511.20" y1="876.72" x2="517.00" y2="876.72" stroke="#111" stroke-width="1.3" stroke-linecap="butt"/>
<line x1="513.40" y1="849.90" x2="517.00" y2="849.90" stroke="#111" stroke-width="1.3" stroke-linecap="butt"/>
<line x1="511.20" y1="823.08" x2="517.00" y2="823.08" stroke="#111" stroke-width="1.3" stroke-linecap="butt"/>
<line x1="513.40" y1="796.26" x2="517.00" y2="796.26" stroke="#111" stroke-width="1.3" stroke-linecap="butt"/>
<line x1="511.20" y1="769.44" x2="517.00" y2="769.44" stroke="#111" stroke-width="1.3" stroke-linecap="butt"/>
<line x1="513.40" y1="742.62" x2="517.00" y2="742.62" stroke="#111" stroke-width="1.3" stroke-linecap="butt"/>
<line x1="511.20" y1="715.80" x2="517.00" y2="715.80" stroke="#111" stroke-width="1.3" stroke-linecap="butt"/>
<rect x="121.00" y="715.80" width="396.00" height="268.20" fill="none" stroke="#111" stroke-width="1.9"/>
<polyline points="121.50,983.18 122.20,983.26 122.90,983.48 123.60,982.82 124.30,983.59 125.00,983.15 125.70,982.79 126.40,983.53 127.10,983.10 127.80,983.05 128.50,983.56 129.20,983.26 129.90,982.97 130.60,983.19 131.30,982.95 132.00,983.46 132.70,983.39 133.40,983.50 134.10,983.14 134.80,982.77 135.50,983.07 136.20,982.90 136.90,983.25 137.60,982.93 138.30,983.51 139.00,983.34 139.70,982.99 140.40,982.95 141.10,983.22 141.80,983.52 142.50,983.36 143.20,983.41 143.90,983.35 144.60,982.87 145.30,983.42 146.00,982.80 146.70,982.81 147.40,983.55 148.10,983.26 148.80,983.16 149.50,983.58 150.20,983.22 150.90,982.78 151.60,983.50 152.30,983.06 153.00,983.49 153.70,983.08 154.40,982.79 155.10,983.42 155.80,983.59 156.50,983.52 157.20,983.11 157.90,983.58 158.60,983.52 159.30,983.15 160.00,982.77 160.70,983.22 161.40,983.24 162.10,983.03 162.80,983.52 163.50,983.08 164.20,983.44 164.90,983.05 165.60,982.74 166.30,983.55 167.00,983.10 167.70,983.05 168.40,983.47 169.10,983.36 169.80,982.70 170.50,982.70 171.20,983.49 171.90,982.97 172.60,982.74 173.30,983.39 174.00,983.05 174.70,983.56 175.40,983.27 176.10,982.99 176.80,983.07 177.50,982.90 178.20,983.52 178.90,983.29 179.60,982.82 180.30,983.07 181.00,983.19 181.70,983.24 182.40,982.71 183.10,983.08 183.80,983.58 184.50,982.88 185.20,983.30 185.90,983.21 186.60,983.41 187.30,983.20 188.00,983.31 188.70,983.52 189.40,983.03 190.10,983.51 190.80,982.89 191.50,983.58 192.20,982.90 192.90,982.87 193.60,983.15 194.30,982.96 195.00,983.38 195.70,982.94 196.40,983.22 197.10,983.39 197.80,982.73 198.50,983.24 199.20,983.26 199.90,982.83 200.60,983.27 201.30,983.00 202.00,983.45 202.70,982.84 203.40,983.37 204.10,983.55 204.80,982.72 205.50,983.44 206.20,982.75 206.90,982.71 207.60,983.05 208.30,983.59 209.00,983.55 209.70,983.41 210.40,983.25 211.10,983.05 211.80,982.73 212.50,983.28 213.20,983.47 213.90,983.09 214.60,983.48 215.30,983.52 216.00,983.10 216.70,982.97 217.40,983.54 218.10,983.19 218.80,982.97 219.50,982.91 220.20,983.26 220.90,982.80 221.60,983.45 222.30,982.96 223.00,982.91 223.70,982.81 224.40,983.16 225.10,983.51 225.80,983.56 226.50,983.12 227.20,983.44 227.90,983.03 228.60,983.52 229.30,982.90 230.00,983.40 230.70,983.59 231.40,983.44 232.10,983.19 232.80,983.10 233.50,983.25 234.20,983.44 234.90,983.17 235.60,982.75 236.30,983.12 237.00,982.75 237.70,983.57 238.40,982.71 239.10,982.80 239.80,983.11 240.50,983.13 241.20,983.12 241.90,982.78 242.60,983.54 243.30,983.02 244.00,983.11 244.70,983.33 245.40,982.95 246.10,982.95 246.80,983.51 247.50,982.97 248.20,983.19 248.90,983.16 249.60,983.03 250.30,983.55 251.00,983.06 251.70,983.26 252.40,982.81 253.10,983.39 253.80,982.86 254.50,982.94 255.20,983.04 255.90,982.81 256.60,983.57 257.30,983.06 258.00,983.05 258.70,982.99 259.40,983.23 260.10,983.54 260.80,983.43 261.50,983.05 262.20,983.44 262.90,983.54 263.60,983.28 264.30,983.18 265.00,983.12 265.70,983.58 266.40,982.90 267.10,983.30 267.80,982.90 268.50,983.59 269.20,982.74 269.90,983.07 270.60,982.72 271.30,982.71 272.00,982.85 272.70,983.50 273.40,983.29 274.10,983.39 274.80,982.90 275.50,983.43 276.20,983.40 276.90,983.50 277.60,983.49 278.30,982.76 279.00,982.72 279.70,983.26 280.40,982.93 281.10,983.18 281.80,983.13 282.50,983.27 283.20,983.03 283.90,983.39 284.60,983.37 285.30,983.13 286.00,983.42 286.70,983.20 287.40,982.75 288.10,983.58 288.80,983.51 289.50,982.88 290.20,983.55 290.90,983.37 291.60,982.83 292.30,983.06 293.00,983.40 293.70,983.55 294.40,983.35 295.10,983.33 295.80,982.88 296.50,982.72 297.20,982.89 297.90,982.79 298.60,982.76 299.30,982.81 300.00,982.77 300.70,982.73 301.40,983.52 302.10,983.31 302.80,983.38 303.50,983.06 304.20,983.16 304.90,983.29 305.60,982.85 306.30,983.24 307.00,983.41 307.70,983.35 308.40,983.18 309.10,983.05 309.80,983.09 310.50,983.20 311.20,983.43 311.90,983.24 312.60,983.31 313.30,983.45 314.00,983.11 314.70,983.43 315.40,982.96 316.10,983.01 316.80,983.48 317.50,983.04 318.20,983.30 318.90,983.20 319.60,983.05 320.30,982.91 321.00,982.80 321.70,982.94 322.40,983.41 323.10,983.11 323.80,983.30 324.50,983.58 325.20,983.10 325.90,983.18 326.60,982.82 327.30,983.31 328.00,982.85 328.70,983.14 329.40,983.51 330.10,982.95 330.80,983.34 331.50,983.12 332.20,983.54 332.90,983.59 333.60,982.77 334.30,983.56 335.00,983.47 335.70,983.45 336.40,983.51 337.10,982.86 337.80,982.70 338.50,983.02 339.20,983.24 339.90,982.80 340.60,983.14 341.30,983.48 342.00,982.98 342.70,983.28 343.40,983.36 344.10,983.31 344.80,983.25 345.50,983.44 346.20,983.05 346.90,982.82 347.60,983.09 348.30,983.59 349.00,982.98 349.70,983.58 350.40,983.17 351.10,982.82 351.80,982.99 352.50,982.78 353.20,982.92 353.90,983.35 354.60,983.47 355.30,983.19 356.00,982.99 356.70,983.39 357.40,983.30 358.10,982.93 358.80,983.29 359.50,983.06 360.20,983.11 360.90,982.76 361.60,983.58 362.30,983.43 363.00,982.90 363.70,983.00 364.40,983.51 365.10,983.48 365.80,983.41 366.50,983.11 367.20,982.79 367.90,983.41 368.60,983.42 369.30,982.98 370.00,983.22 370.70,982.84 371.40,982.70 372.10,982.76 372.80,982.96 373.50,983.15 374.20,983.55 374.90,982.87 375.60,983.24 376.30,983.18 377.00,983.03 377.70,982.73 378.40,983.10 379.10,982.77 379.80,982.73 380.50,983.52 381.20,983.28 381.90,982.80 382.60,982.91 383.30,982.73 384.00,983.43 384.70,983.12 385.40,982.76 386.10,983.11 386.80,983.00 387.50,982.72 388.20,983.44 388.90,983.55 389.60,982.83 390.30,983.08 391.00,983.42 391.70,982.85 392.40,983.34 393.10,983.48 393.80,983.33 394.50,983.57 395.20,983.23 395.90,982.90 396.60,983.19 397.30,982.73 398.00,983.56 398.70,983.44 399.40,983.47 400.10,983.08 400.80,983.42 401.50,983.00 402.20,983.13 402.90,983.08 403.60,982.84 404.30,982.89 405.00,982.77 405.70,983.46 406.40,983.26 407.10,982.74 407.80,983.24 408.50,983.34 409.20,983.17 409.90,983.44 410.60,982.84 411.30,983.03 412.00,983.51 412.70,982.73 413.40,983.13 414.10,983.37 414.80,983.05 415.50,982.75 416.20,983.29 416.90,983.59 417.60,983.42 418.30,983.55 419.00,983.12 419.70,983.32 420.40,982.83 421.10,983.41 421.80,983.59 422.50,983.18 423.20,983.49 423.90,983.32 424.60,983.40 425.30,983.44 426.00,983.03 426.70,982.76 427.40,983.27 428.10,983.03 428.80,983.31 429.50,982.78 430.20,983.10 430.90,983.57 431.60,982.93 432.30,983.41 433.00,983.56 433.70,983.58 434.40,982.84 435.10,982.96 435.80,983.28 436.50,983.10 437.20,982.97 437.90,983.53 438.60,982.96 439.30,982.96 440.00,982.75 440.70,983.55 441.40,983.08 442.10,983.14 442.80,982.84 443.50,983.27 444.20,983.00 444.90,982.79 445.60,983.29 446.30,983.14 447.00,982.80 447.70,983.57 448.40,982.72 449.10,983.32 449.80,983.19 450.50,983.34 451.20,982.88" fill="none" stroke="#00f" stroke-width="2.4" stroke-linejoin="round"/>
<path d="M164.66,983.00V976.43 M172.31,983.00V973.62 M163.34,983.00V982.36 M162.65,983.00V982.41 M173.21,983.00V983.00 M169.56,983.00V982.51 M165.30,983.00V980.11 M175.08,983.00V977.63 M160.26,983.00V981.92 M162.64,983.00V973.23 M174.58,983.00V974.39 M174.87,983.00V975.44 M177.09,983.00V974.61 M164.62,983.00V973.61 M191.74,983.00V976.58 M193.28,983.00V980.70 M189.28,983.00V980.70 M188.28,983.00V983.00 M198.39,983.00V975.95 M201.71,983.00V977.48 M193.08,983.00V976.68 M184.70,983.00V977.68 M190.87,983.00V982.98 M186.05,983.00V979.64 M187.07,983.00V980.37 M194.11,983.00V981.06 M184.62,983.00V980.02 M186.71,983.00V982.54 M210.25,983.00V980.47 M206.98,983.00V975.92 M230.75,983.00V980.15 M224.41,983.00V970.28 M206.17,983.00V983.00 M226.76,983.00V972.29 M222.25,983.00V982.84 M216.16,983.00V971.66 M228.93,983.00V973.00 M210.48,983.00V971.97 M215.12,983.00V974.70 M208.70,983.00V969.44 M221.29,983.00V974.58 M210.72,983.00V976.53 M220.68,983.00V976.98 M214.70,983.00V974.49 M214.22,983.00V981.39 M209.44,983.00V975.31 M208.03,983.00V982.19 M206.87,983.00V976.06 M220.02,983.00V977.79 M206.05,983.00V979.43 M240.80,983.00V983.00 M236.04,983.00V965.86 M237.70,983.00V980.82 M239.77,983.00V975.49 M237.08,983.00V978.00 M241.13,983.00V970.08 M236.08,983.00V980.31 M242.95,983.00V966.61 M243.23,983.00V977.92 M245.37,983.00V980.89 M236.44,983.00V977.41 M248.75,983.00V972.38 M271.62,983.00V977.58 M279.89,983.00V982.35 M276.23,983.00V981.47 M271.42,983.00V982.11 M270.85,983.00V981.51 M268.53,983.00V981.04 M269.21,983.00V976.54 M276.40,983.00V983.00 M331.93,983.00V982.05 M326.65,983.00V975.13 M323.99,983.00V980.53 M325.83,983.00V982.74 M333.54,983.00V983.00 M332.82,983.00V981.66 M323.46,983.00V978.72 M318.60,983.00V982.84 M324.50,983.00V977.63 M333.78,983.00V963.12 M318.78,983.00V975.58 M320.33,983.00V968.67 M323.81,983.00V966.08 M327.82,983.00V982.86 M318.09,983.00V981.20 M333.62,983.00V982.58 M326.62,983.00V979.04 M324.21,983.00V968.72 M321.85,983.00V971.01 M330.00,983.00V964.80 M327.36,983.00V965.26 M325.93,983.00V974.68 M360.69,983.00V973.80 M364.57,983.00V983.00 M353.92,983.00V978.73 M363.37,983.00V978.73 M356.19,983.00V971.54 M356.17,983.00V983.00 M352.73,983.00V983.00 M362.18,983.00V983.00 M378.59,983.00V974.93 M382.00,983.00V975.79 M375.09,983.00V978.40 M380.00,983.00V977.14 M373.49,983.00V976.48 M371.31,983.00V981.92 M381.95,983.00V980.24 M373.21,983.00V976.15" fill="none" stroke="#00f" stroke-width="1.6" stroke-linecap="round"/>
<path d="M133.00,983.00V981.45 M141.40,983.00V981.95 M163.50,983.00V974.05 M169.20,983.00V957.35 M171.40,983.00V974.55 M174.20,983.00V902.95 M175.50,983.00V946.95 M180.10,983.00V974.55 M185.40,983.00V976.45 M187.20,983.00V949.15 M190.50,983.00V937.35 M195.50,983.00V969.65 M197.70,983.00V969.95 M200.10,983.00V969.65 M206.50,983.00V976.95 M211.90,983.00V969.95 M214.60,983.00V965.95 M215.50,983.00V965.45 M217.60,983.00V968.95 M221.30,983.00V957.35 M222.70,983.00V958.25 M226.90,983.00V957.35 M230.00,983.00V969.15 M238.90,983.00V903.25 M240.00,983.00V938.25 M242.40,983.00V941.95 M246.40,983.00V936.45 M247.80,983.00V924.95 M260.90,983.00V959.15 M265.10,983.00V956.95 M273.60,983.00V968.25 M277.60,983.00V956.45 M278.70,983.00V961.95 M285.30,983.00V934.45 M289.50,983.00V955.75 M304.50,983.00V976.45 M309.00,983.00V932.35 M317.30,983.00V920.95 M321.50,983.00V899.35 M327.20,983.00V956.65 M334.00,983.00V872.75 M338.90,983.00V825.95 M339.90,983.00V897.95 M344.10,983.00V788.65 M347.50,983.00V920.95 M356.10,983.00V911.85 M359.00,983.00V935.75 M362.10,983.00V915.95 M363.00,983.00V747.85 M368.90,983.00V956.65 M374.80,983.00V928.95 M375.30,983.00V895.15 M379.10,983.00V959.15 M385.00,983.00V981.75 M397.00,983.00V942.75 M403.20,983.00V962.05 M407.20,983.00V977.65 M424.00,983.00V977.65 M429.00,983.00V981.25" fill="none" stroke="#00f" stroke-width="1.9" stroke-linecap="round"/>
<polygon points="422.8,983.5 423,976.8 426.5,976.8 427.5,978.8 430,980.3 433,981.5 435,982 435,983.5" fill="#00f"/>
<text transform="translate(114.30,293.24) scale(1.0350,1)" font-size="21.8" text-anchor="end" fill="#000" stroke="#000" stroke-width="0.193">0</text>
<text transform="translate(114.30,182.84) scale(1.0350,1)" font-size="21.8" text-anchor="end" fill="#000" stroke="#000" stroke-width="0.193">20000</text>
<text transform="translate(114.30,72.44) scale(1.0350,1)" font-size="21.8" text-anchor="end" fill="#000" stroke="#000" stroke-width="0.193">40000</text>
<text transform="translate(200.68,313.06) scale(1.0600,1)" font-size="21.8" text-anchor="middle" fill="#000" stroke="#000" stroke-width="0.189">400</text>
<text transform="translate(354.04,313.06) scale(1.0600,1)" font-size="21.8" text-anchor="middle" fill="#000" stroke="#000" stroke-width="0.189">800</text>
<text transform="translate(507.40,313.06) scale(1.0600,1)" font-size="21.8" text-anchor="middle" fill="#000" stroke="#000" stroke-width="0.189">1200</text>
<text transform="translate(313.50,331.10) scale(1.0240,1)" font-size="22.3" text-anchor="middle" fill="#000" stroke="#000" stroke-width="0.195">Wavelength /nm</text>
<text transform="translate(49.90,136.05) rotate(-90)" font-size="22.2" text-anchor="middle" fill="#000" stroke="#000" stroke-width="0.200">Intensity /a.u</text>
<text transform="translate(138.20,46.70) scale(1.0700,1)" font-size="21.8" text-anchor="start" fill="#000" stroke="#000" stroke-width="0.187">(a)</text>
<rect x="373.6" y="25" width="120.3" height="26.4" fill="none" stroke="#555" stroke-width="1.2"/>
<line x1="380.20" y1="38.90" x2="431.30" y2="38.90" stroke="#000" stroke-width="1.7" stroke-linecap="butt"/>
<text transform="translate(437.90,46.80)" font-size="22.5" text-anchor="start" fill="#000" stroke="#000" stroke-width="0.200">700V</text>
<text transform="translate(152.00,237.60) scale(1.0500,1)" font-size="21.5" text-anchor="start" fill="#000" stroke="#000" stroke-width="0.190">Ti+</text>
<line x1="153.30" y1="246.40" x2="171.80" y2="246.40" stroke="#000" stroke-width="2.3"/>
<polygon points="170.80,242.80 183.30,245.90 183.30,246.90 170.80,250.00" fill="#000"/>
<text transform="translate(221.50,195.80) scale(1.0500,1)" font-size="21.5" text-anchor="start" fill="#000" stroke="#000" stroke-width="0.190">Ti0</text>
<line x1="222.80" y1="205.90" x2="241.30" y2="205.90" stroke="#000" stroke-width="2.3"/>
<polygon points="240.30,202.30 252.80,205.40 252.80,206.40 240.30,209.50" fill="#000"/>
<text transform="translate(302.00,185.40) scale(1.0500,1)" font-size="21.5" text-anchor="start" fill="#000" stroke="#000" stroke-width="0.190">Ar0</text>
<line x1="297.50" y1="191.00" x2="315.70" y2="191.00" stroke="#000" stroke-width="2.3"/>
<polygon points="314.70,187.40 327.20,190.50 327.20,191.50 314.70,194.60" fill="#000"/>
<text transform="translate(103.20,639.24)" font-size="23.6" text-anchor="end" fill="#000" stroke="#000" stroke-width="0.200">0</text>
<text transform="translate(103.20,550.04)" font-size="23.6" text-anchor="end" fill="#000" stroke="#000" stroke-width="0.200">20000</text>
<text transform="translate(103.20,460.84)" font-size="23.6" text-anchor="end" fill="#000" stroke="#000" stroke-width="0.200">40000</text>
<text transform="translate(103.20,371.64)" font-size="23.6" text-anchor="end" fill="#000" stroke="#000" stroke-width="0.200">60000</text>
<text transform="translate(192.08,659.54)" font-size="23.2" text-anchor="middle" fill="#000" stroke="#000" stroke-width="0.200">400</text>
<text transform="translate(350.04,659.54)" font-size="23.2" text-anchor="middle" fill="#000" stroke="#000" stroke-width="0.200">800</text>
<text transform="translate(508.00,659.54)" font-size="23.2" text-anchor="middle" fill="#000" stroke="#000" stroke-width="0.200">1200</text>
<text transform="translate(322.80,681.60) scale(1.0200,1)" font-size="23" text-anchor="middle" fill="#000" stroke="#000" stroke-width="0.196">Wavelength /nm</text>
<text transform="translate(32.00,476.50) rotate(-90)" font-size="23.3" text-anchor="middle" fill="#000" stroke="#000" stroke-width="0.200">Intensity /a.u</text>
<text transform="translate(131.80,381.20) scale(1.0700,1)" font-size="21.8" text-anchor="start" fill="#000" stroke="#000" stroke-width="0.187">(b)</text>
<rect x="373.1" y="358.9" width="125.7" height="27" fill="none" stroke="#555" stroke-width="1.2"/>
<line x1="381.00" y1="372.90" x2="434.50" y2="372.90" stroke="#f00" stroke-width="1.9" stroke-linecap="butt"/>
<text transform="translate(440.60,380.90) scale(0.9500,1)" font-size="24.3" text-anchor="start" fill="#000" stroke="#000" stroke-width="0.211">800V</text>
<text transform="translate(147.40,559.70)" font-size="23.3" text-anchor="start" fill="#000" stroke="#000" stroke-width="0.200">Ti+</text>
<line x1="143.00" y1="569.40" x2="161.80" y2="569.40" stroke="#f00" stroke-width="2.3"/>
<polygon points="160.80,565.80 173.30,568.90 173.30,569.90 160.80,573.00" fill="#f00"/>
<text transform="translate(213.30,538.60) scale(1.0300,1)" font-size="23.0" text-anchor="start" fill="#000" stroke="#000" stroke-width="0.194">Ti0</text>
<line x1="215.00" y1="548.20" x2="235.30" y2="548.20" stroke="#f00" stroke-width="2.3"/>
<polygon points="234.30,544.60 246.80,547.70 246.80,548.70 234.30,551.80" fill="#f00"/>
<text transform="translate(286.60,459.40)" font-size="23" text-anchor="start" fill="#000" stroke="#000" stroke-width="0.200">Ar0</text>
<line x1="290.30" y1="464.20" x2="310.10" y2="464.20" stroke="#f00" stroke-width="2.3"/>
<polygon points="309.10,460.60 321.60,463.70 321.60,464.70 309.10,467.80" fill="#f00"/>
<text transform="translate(110.60,990.04) scale(1.0600,1)" font-size="21.8" text-anchor="end" fill="#000" stroke="#000" stroke-width="0.189">0</text>
<text transform="translate(110.60,913.41) scale(1.0600,1)" font-size="21.8" text-anchor="end" fill="#000" stroke="#000" stroke-width="0.189">20000</text>
<text transform="translate(110.60,836.78) scale(1.0600,1)" font-size="21.8" text-anchor="end" fill="#000" stroke="#000" stroke-width="0.189">40000</text>
<text transform="translate(110.60,760.15) scale(1.0600,1)" font-size="21.8" text-anchor="end" fill="#000" stroke="#000" stroke-width="0.189">60000</text>
<text transform="translate(200.20,1010.06) scale(1.0600,1)" font-size="21.8" text-anchor="middle" fill="#000" stroke="#000" stroke-width="0.189">400</text>
<text transform="translate(358.60,1010.06) scale(1.0600,1)" font-size="21.8" text-anchor="middle" fill="#000" stroke="#000" stroke-width="0.189">800</text>
<text transform="translate(517.00,1010.06) scale(1.0600,1)" font-size="21.8" text-anchor="middle" fill="#000" stroke="#000" stroke-width="0.189">1200</text>
<text transform="translate(370.35,1027.80) scale(1.0610,1)" font-size="22.3" text-anchor="middle" fill="#000" stroke="#000" stroke-width="0.189">Wavelength /nm</text>
<text transform="translate(33.60,832.40) rotate(-90)" font-size="21.8" text-anchor="middle" fill="#000" stroke="#000" stroke-width="0.200">Intensity /a.u</text>
<text transform="translate(129.00,740.90) scale(1.0300,1)" font-size="22.2" text-anchor="start" fill="#000" stroke="#000" stroke-width="0.194">(c)</text>
<rect x="376.4" y="746.4" width="126.4" height="25.0" fill="none" stroke="#555" stroke-width="1.2"/>
<line x1="384.00" y1="759.60" x2="438.20" y2="759.60" stroke="#00f" stroke-width="1.9" stroke-linecap="butt"/>
<text transform="translate(443.80,767.20) scale(1.0750,1)" font-size="21.8" text-anchor="start" fill="#000" stroke="#000" stroke-width="0.186">900V</text>
<text transform="translate(148.50,883.70) scale(1.0800,1)" font-size="21.8" text-anchor="start" fill="#000" stroke="#000" stroke-width="0.185">Ti+</text>
<line x1="151.00" y1="894.90" x2="170.70" y2="894.90" stroke="#00f" stroke-width="2.3"/>
<polygon points="169.70,891.30 182.20,894.40 182.20,895.40 169.70,898.50" fill="#00f"/>
<text transform="translate(219.70,883.70) scale(1.0800,1)" font-size="21.8" text-anchor="start" fill="#000" stroke="#000" stroke-width="0.185">Ti0</text>
<line x1="221.80" y1="896.90" x2="241.50" y2="896.90" stroke="#00f" stroke-width="2.3"/>
<polygon points="240.50,893.30 253.00,896.40 253.00,897.40 240.50,900.50" fill="#00f"/>
<text transform="translate(293.30,873.30) scale(1.0800,1)" font-size="21.8" text-anchor="start" fill="#000" stroke="#000" stroke-width="0.185">Ar0</text>
<line x1="298.00" y1="880.20" x2="317.60" y2="880.20" stroke="#00f" stroke-width="2.3"/>
<polygon points="316.60,876.60 329.10,879.70 329.10,880.70 316.60,883.80" fill="#00f"/>
</svg>
</body></html>
